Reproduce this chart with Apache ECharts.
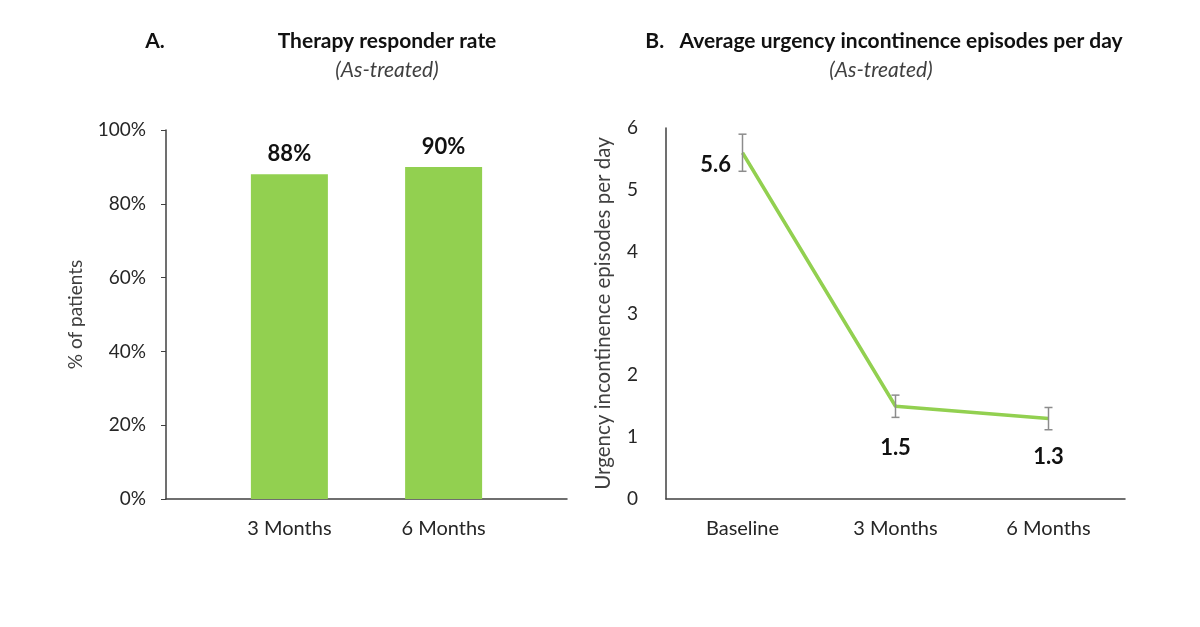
<!DOCTYPE html>
<html>
<head>
<meta charset="utf-8">
<script src="https://cdn.jsdelivr.net/npm/echarts@6/dist/echarts.min.js"></script>
<style>
  html, body { margin: 0; padding: 0; background: #fff; }
  #chart { width: 1200px; height: 627px; }
</style>
</head>
<body>
<div id="chart"></div>
<script>
// panel A: responder rate
const responderCats = ["3 Months", "6 Months"];
const responderRate = [88, 90];
const pctTicks = [0, 20, 40, 60, 80, 100];

// panel B: urgency incontinence episodes
const episodeCats = ["Baseline", "3 Months", "6 Months"];
const episodeMean = [5.6, 1.5, 1.3];
const episodeErr = [0.3, 0.18, 0.18];

const green = "#92D050";
const font = "Lato, 'Open Sans', sans-serif";
const axisColor = "#404040";
const tickColor = "#262626";

const chart = echarts.init(document.getElementById("chart"));

// 误差线
function errorBar(params, api) {
  const x = api.value(0);
  const lo = api.coord([x, api.value(1)]);
  const hi = api.coord([x, api.value(2)]);
  const cap = 4;
  const style = { stroke: "#8c8c8c", lineWidth: 1.5 };
  return {
    type: "group",
    children: [
      { type: "line", shape: { x1: lo[0], y1: lo[1], x2: hi[0], y2: hi[1] }, style },
      { type: "line", shape: { x1: lo[0] - cap, y1: lo[1], x2: lo[0] + cap, y2: lo[1] }, style },
      { type: "line", shape: { x1: hi[0] - cap, y1: hi[1], x2: hi[0] + cap, y2: hi[1] }, style },
    ],
  };
}

const lineLabelCfg = [
  { position: "left", distance: 11, offset: [0, 12] },
  { position: "bottom", distance: 30 },
  { position: "bottom", distance: 27 },
];

const option = {
  backgroundColor: "#fff",
  textStyle: { fontFamily: font },
  graphic: [
    { type: "text", x: 155, y: 41, style: { text: "A.", font: "bold 21px " + font, fill: "#111", align: "center", verticalAlign: "middle" } },
    { type: "text", x: 387, y: 41, style: { text: "Therapy responder rate", font: "bold 21px " + font, fill: "#111", align: "center", verticalAlign: "middle" } },
    { type: "text", x: 387, y: 70, style: { text: "(As-treated)", font: "italic 21px " + font, fill: "#404040", align: "center", verticalAlign: "middle" } },
    { type: "text", x: 884, y: 41, style: { text: "B.   Average urgency incontinence episodes per day", font: "bold 21px " + font, fill: "#111", align: "center", verticalAlign: "middle" } },
    { type: "text", x: 881, y: 70, style: { text: "(As-treated)", font: "italic 21px " + font, fill: "#404040", align: "center", verticalAlign: "middle" } },
  ],
  grid: [
    { left: 166, right: 633, top: 130, bottom: 128 },
    { left: 666, right: 75, top: 128, bottom: 128 },
  ],
  xAxis: [
    {
      gridIndex: 0,
      type: "value",
      min: -0.8,
      max: 1.8,
      splitLine: { show: false },
      axisTick: { show: false },
      axisLine: { show: true, onZero: false, lineStyle: { color: axisColor, width: 1.5 } },
      axisLabel: {
        customValues: [0, 1],
        formatter: (v) => responderCats[Math.round(v)] || "",
        color: tickColor,
        fontSize: 20,
        margin: 20,
      },
    },
    {
      gridIndex: 1,
      type: "category",
      data: episodeCats,
      axisTick: { show: false },
      axisLine: { lineStyle: { color: axisColor, width: 1.5 } },
      axisLabel: { color: tickColor, fontSize: 20, margin: 20 },
    },
  ],
  yAxis: [
    {
      gridIndex: 0,
      type: "value",
      min: pctTicks[0],
      max: pctTicks[pctTicks.length - 1],
      interval: 20,
      splitLine: { show: false },
      axisLine: { show: true, onZero: false, lineStyle: { color: axisColor, width: 1.5 } },
      axisLabel: { formatter: "{value}%", color: tickColor, fontSize: 19, margin: 20 },
      name: "% of patients",
      nameLocation: "middle",
      nameGap: 81,
      nameTextStyle: { fontSize: 19, color: "#404040" },
    },
    {
      gridIndex: 1,
      type: "value",
      min: 0,
      max: 6,
      interval: 1,
      splitLine: { show: false },
      axisLine: { show: true, onZero: false, lineStyle: { color: axisColor, width: 1.5 } },
      axisLabel: { color: tickColor, fontSize: 19, margin: 28 },
      name: "Urgency incontinence episodes per day",
      nameLocation: "middle",
      nameGap: 52,
      nameTextStyle: { fontSize: 20.5, color: "#404040" },
    },
  ],
  series: [
    {
      type: "bar",
      xAxisIndex: 0,
      yAxisIndex: 0,
      barWidth: 77,
      data: responderRate.map((v, i) => [i, v]),
      itemStyle: { color: green },
      label: {
        show: true,
        position: "top",
        distance: 9,
        formatter: (p) => p.value[1] + "%",
        fontSize: 22,
        fontWeight: "bold",
        color: "#111",
      },
    },
    {
      type: "line",
      xAxisIndex: 1,
      yAxisIndex: 1,
      data: episodeMean.map((v, i) => ({
        value: v,
        label: lineLabelCfg[i],
      })),
      symbol: "circle",
      symbolSize: 1,
      showSymbol: true,
      itemStyle: { color: green },
      lineStyle: { color: green, width: 3.5 },
      label: {
        show: true,
        fontSize: 22,
        fontWeight: "bold",
        color: "#111",
        formatter: (p) => p.value.toFixed(1),
      },
      z: 3,
    },
    {
      type: "custom",
      xAxisIndex: 1,
      yAxisIndex: 1,
      renderItem: errorBar,
      data: episodeMean.map((v, i) => [i, v - episodeErr[i], v + episodeErr[i]]),
      z: 4,
    },
  ],
};

chart.setOption(option);
</script>
</body>
</html>
